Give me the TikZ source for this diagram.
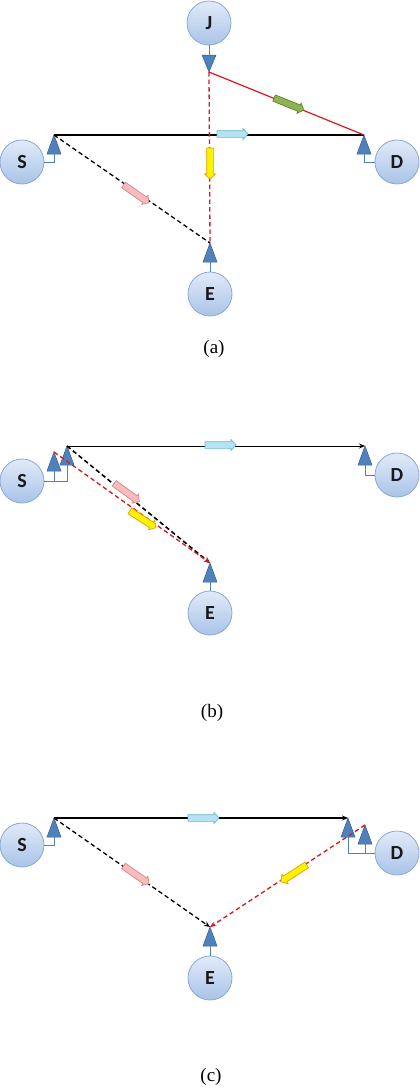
\documentclass[tikz,border=0pt]{standalone}
\usepackage{fontspec}
\setmainfont{Liberation Serif}
\newfontfamily\nodefont{Carlito}
\usetikzlibrary{shapes.arrows,arrows.meta}
\definecolor{circtop}{HTML}{E1EBF8}
\definecolor{circbot}{HTML}{A9C3E8}
\definecolor{circedge}{HTML}{8BA8D3}
\definecolor{antblue}{HTML}{4F81BD}
\definecolor{antedge}{HTML}{385D8A}
\definecolor{cyanfill}{HTML}{B4E4F2}
\definecolor{cyanedge}{HTML}{6CB8CF}
\definecolor{greenfill}{HTML}{8DB451}
\definecolor{greenedge}{HTML}{5E7F35}
\definecolor{yelfill}{HTML}{FFF200}
\definecolor{yeledge}{HTML}{D9A400}
\definecolor{pinkfill}{HTML}{F7BDBD}
\definecolor{pinkedge}{HTML}{D98585}
\definecolor{linered}{HTML}{E0141E}
\tikzset{
  station/.style={circle, minimum size=44pt, inner sep=0pt, draw=circedge, line width=0.8pt,
    top color=circtop, bottom color=circbot,
    font=\nodefont\bfseries\fontsize{20}{20}\selectfont, text=black!90},
  antfill/.style={fill=antblue, draw=antedge, line width=0.5pt},
  stem/.style={draw=antblue, line width=0.8pt},
  blk/.style={single arrow, minimum height=#1, inner xsep=0pt, inner ysep=3pt,
    text height=0pt, text depth=0pt, text width=0pt,
    single arrow head extend=2.2pt, single arrow tip angle=95, line width=0.7pt},
  cyanarr/.style={blk=31pt, fill=cyanfill, draw=cyanedge},
  greenarr/.style={blk=32pt, fill=greenfill, draw=greenedge},
  yelarr/.style={blk=31pt, fill=yelfill, draw=yeledge},
  pinkarr/.style={blk=31pt, fill=pinkfill, draw=pinkedge},
  link/.style={line width=1.2pt},
  dlink/.style={line width=1.3pt, dash pattern=on 4.5pt off 3pt},
  tip/.style={-{Stealth[length=6pt,width=5pt]}},
  caption/.style={font=\fontsize{19}{19}\selectfont},
}
\newcommand\upant[3]{%
  \coordinate (#1) at (#2,#3);
  \filldraw[antfill] (#2,#3) -- (#2-7,#3+19) -- (#2+7,#3+19) -- cycle;
  \coordinate (#1b) at (#2,#3+19);}
\begin{document}
\begin{tikzpicture}[x=1pt,y=-1pt]
\useasboundingbox (0,0) rectangle (420,1090);

% ---------------- (a) ----------------
\node[station] (Ja) at (209,23) {J};
\node[station] (Sa) at (22,162) {S};
\node[station] (Da) at (397,162) {D};
\node[station] (Ea) at (210,294) {E};
% J antenna (pointing down)
\coordinate (ja) at (209,72);
\coordinate (jab) at (209,55);
\filldraw[antfill] (209,72) -- (202,55) -- (216,55) -- cycle;
\draw[stem] (Ja.south) -- (jab);
\upant{sa}{54}{135}
\upant{da}{364}{135}
\upant{ea}{210}{243}
\draw[stem] (sab) |- (Sa.east);
\draw[stem] (dab) |- (Da.west);
\draw[stem] (eab) -- (Ea.north);
\draw[link, line width=1.8pt] (sa) -- (da);
\draw[link, draw=linered] (ja) -- (da);
\draw[dlink, draw=linered] (ja) -- (ea);
\draw[dlink] (sa) -- (ea);
\node[cyanarr] (ca) at (231,134) {};
\node[greenarr, rotate=-22] (ga) at (287.5,103.5) {};
\node[yelarr, rotate=-90] (ya) at (210,162) {};
\node[pinkarr, rotate=-35] (pa) at (135,193) {};
\node[caption] (la) at (214,349) {(a)};

% ---------------- (b) ----------------
\node[station] (Sb) at (22,481) {S};
\node[station] (Db) at (397,475) {D};
\node[station] (Eb) at (210,613) {E};
\upant{sbA}{54}{452}
\upant{sbB}{67}{446}
\upant{db}{365}{446}
\upant{eb}{210}{563}
\draw[stem] (sbBb) |- (Sb.east);
\draw[stem] (sbAb) -- (sbAb |- Sb.east);
\draw[stem] (dbb) |- (Db.west);
\draw[stem] (ebb) -- (Eb.north);
\draw[link, line width=1pt, tip] (sbB) -- (db);
\draw[dlink, line width=1.6pt, tip] (sbB) -- (eb);
\draw[dlink, draw=linered, tip] (sbA) -- (eb);
\node[cyanarr] (cb) at (219,445) {};
\node[pinkarr, rotate=-36] (pb) at (125.5,491.5) {};
\node[yelarr, rotate=-33] (yb) at (141.5,518.5) {};
\node[caption] (lb) at (212,713) {(b)};

% ---------------- (c) ----------------
\node[station] (Sc) at (22,845) {S};
\node[station] (Dc) at (397,853) {D};
\node[station] (Ec) at (210,978) {E};
\upant{sc}{54}{818}
\upant{dcA}{348}{818}
\upant{dcB}{365}{825}
\upant{ec}{210}{927}
\draw[stem] (scb) |- (Sc.east);
\draw[stem] (dcAb) |- (Dc.west);
\draw[stem] (dcBb) -- (dcBb |- Dc.west);
\draw[stem] (ecb) -- (Ec.north);
\draw[link, line width=1.2pt, tip] (sc) -- (dcA);
\draw[dlink, tip] (sc) -- (ec);
\draw[dlink, draw=linered, tip] (dcB) -- (ec);
\node[cyanarr] (cc) at (202,818) {};
\node[pinkarr, rotate=-35] (pc) at (135,874) {};
\node[yelarr, rotate=213] (yc) at (295,872.5) {};
\node[caption] (lc) at (211,1077) {(c)};
\end{tikzpicture}
\end{document}
